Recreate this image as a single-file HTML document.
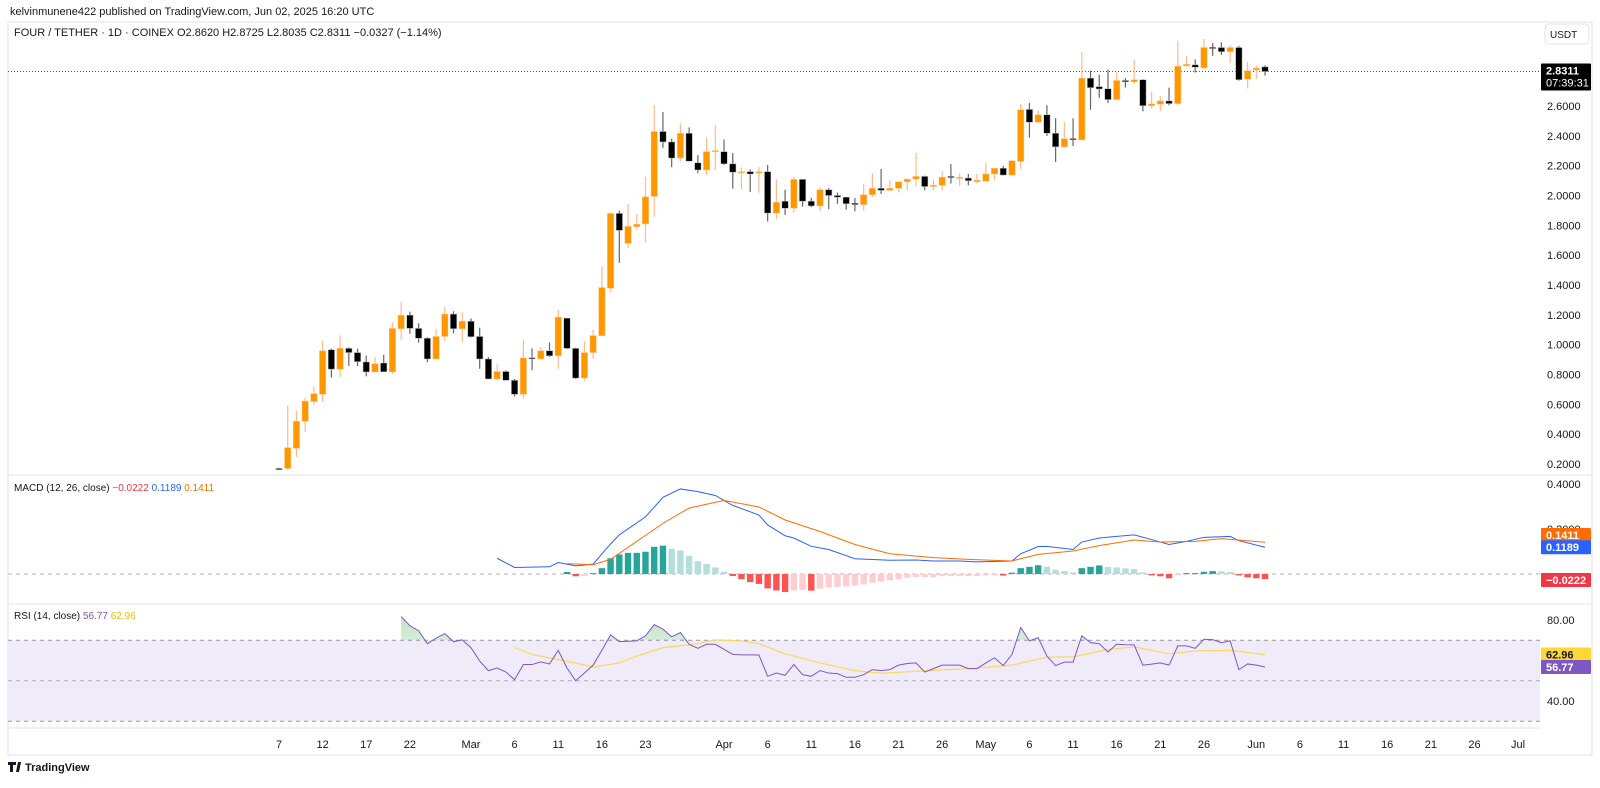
<!DOCTYPE html>
<html><head><meta charset="utf-8"><style>
html,body{margin:0;padding:0;background:#fff;}
body{width:1600px;height:783px;overflow:hidden;font-family:"Liberation Sans",sans-serif;}
svg text{font-family:"Liberation Sans",sans-serif;}
</style></head><body>
<svg id="chart" width="1600" height="783" viewBox="0 0 1600 783" xmlns="http://www.w3.org/2000/svg">
<rect x="0" y="0" width="1600" height="783" fill="#fff"/>
<text x="10" y="15" font-size="11" fill="#131722">kelvinmunene422 published on TradingView.com, Jun 02, 2025 16:20 UTC</text>
<rect x="8" y="22" width="1584" height="733" fill="none" stroke="#e0e3eb"/>
<text x="14" y="36" font-size="11" fill="#131722">FOUR / TETHER · 1D · COINEX  O2.8620  H2.8725  L2.8035  C2.8311  −0.0327 (−1.14%)</text>
<line x1="8" y1="475" x2="1592" y2="475" stroke="#e0e3eb"/>
<line x1="8" y1="604" x2="1592" y2="604" stroke="#e0e3eb"/>
<line x1="8" y1="728" x2="1540" y2="728" stroke="#e0e3eb"/>
<rect x="8" y="640.25" width="1532" height="81" fill="#efebf8"/>
<line x1="8" y1="640.25" x2="1540" y2="640.25" stroke="#9a97a3" stroke-dasharray="4,4"/>
<line x1="8" y1="680.75" x2="1540" y2="680.75" stroke="#b0adb8" stroke-dasharray="4,4"/>
<line x1="8" y1="721.25" x2="1540" y2="721.25" stroke="#9a97a3" stroke-dasharray="4,4"/>
<line x1="8" y1="574" x2="1540" y2="574" stroke="#b2b5be" stroke-dasharray="4,4"/>
<g id="gPrice"></g><g id="gMacd"></g><g id="gRsi"></g><g id="gAxis"></g>
<text x="14" y="491" font-size="10" fill="#131722">MACD (12, 26, close) <tspan fill="#f23645">−0.0222</tspan> <tspan fill="#2962ff">0.1189</tspan> <tspan fill="#ff6d00">0.1411</tspan></text>
<text x="14" y="619" font-size="10" fill="#131722">RSI (14, close) <tspan fill="#7e57c2">56.77</tspan> <tspan fill="#e8c200">62.96</tspan></text>
<rect x="1545" y="24" width="44" height="20" rx="4" fill="#fff" stroke="#e0e3eb"/>
<text x="1550" y="38" font-size="10" fill="#131722">USDT</text>
<g>
<path d="M8 762h8v3h-3v7h-3v-7h-2z M18 762h3l-2 10h-3z" fill="#131722"/>
<text x="25" y="771" font-size="11" fill="#131722" font-weight="bold">TradingView</text>
</g>
</svg>
<script>
const opens=[0.17,0.17,0.305,0.487,0.619,0.667,0.966,0.836,0.975,0.947,0.884,0.817,0.877,0.817,1.107,1.198,1.109,1.043,0.904,1.055,1.205,1.107,1.157,1.055,0.904,0.770,0.820,0.761,0.667,0.913,0.904,0.959,0.925,1.178,0.975,0.776,0.947,1.059,1.378,1.880,1.679,1.791,1.809,1.994,2.429,2.359,2.251,2.417,2.219,2.171,2.294,2.294,2.212,2.156,2.160,2.151,2.160,1.882,1.962,1.914,2.108,1.962,1.930,2.039,2.000,1.989,1.948,1.939,2.005,2.048,2.034,2.048,2.092,2.110,2.128,2.060,2.069,2.128,2.118,2.117,2.092,2.096,2.144,2.183,2.137,2.229,2.577,2.491,2.541,2.417,2.326,2.382,2.372,2.787,2.730,2.716,2.643,2.771,2.762,2.776,2.602,2.612,2.634,2.616,2.869,2.876,2.855,2.993,2.992,2.964,2.992,2.780,2.842,2.862];
const highs=[0.175,0.59,0.558,0.644,0.720,1.027,0.975,1.062,0.982,0.973,0.927,0.918,0.932,1.150,1.287,1.221,1.144,1.050,1.103,1.253,1.224,1.217,1.176,1.114,0.916,0.868,0.827,0.770,1.029,0.975,0.984,1.014,1.232,1.18,0.98,1.025,1.101,1.527,1.885,1.898,1.944,1.875,2.126,2.605,2.559,2.381,2.484,2.456,2.270,2.388,2.472,2.376,2.285,2.189,2.176,2.190,2.205,2.108,2.039,2.126,2.11,1.985,2.058,2.051,2.019,1.99,1.983,2.076,2.149,2.178,2.103,2.095,2.112,2.285,2.133,2.108,2.162,2.210,2.149,2.144,2.144,2.217,2.185,2.199,2.240,2.616,2.621,2.571,2.605,2.518,2.495,2.518,2.963,2.837,2.810,2.844,2.826,2.787,2.912,2.78,2.696,2.666,2.723,3.038,2.935,2.912,3.049,3.022,3.026,3.008,3.003,2.894,2.871,2.8725];
const lows=[0.16,0.16,0.248,0.414,0.599,0.617,0.781,0.781,0.858,0.856,0.788,0.815,0.817,0.804,1.034,1.073,1.014,0.882,0.904,1.021,1.075,1.016,1.048,0.838,0.770,0.763,0.759,0.653,0.640,0.829,0.904,0.918,0.838,0.97,0.77,0.759,0.906,1.059,1.351,1.549,1.648,1.773,1.686,1.857,2.320,2.190,2.229,2.229,2.149,2.137,2.171,2.205,2.046,2.042,2.024,2.019,1.825,1.841,1.870,1.887,1.925,1.921,1.894,1.909,1.944,1.905,1.894,1.898,1.989,2.010,2.030,2.021,2.035,2.062,2.035,2.035,2.035,2.080,2.065,2.069,2.080,2.096,2.099,2.135,2.135,2.178,2.388,2.49,2.400,2.224,2.32,2.331,2.37,2.575,2.655,2.620,2.64,2.723,2.748,2.564,2.584,2.566,2.605,2.609,2.865,2.824,2.85,2.935,2.942,2.889,2.77,2.718,2.780,2.8035];
const closes=[0.165,0.31,0.487,0.622,0.672,0.959,0.836,0.975,0.947,0.886,0.817,0.872,0.818,1.109,1.198,1.109,1.043,0.904,1.055,1.205,1.107,1.157,1.053,0.904,0.770,0.820,0.761,0.667,0.911,0.911,0.959,0.925,1.185,0.975,0.776,0.947,1.061,1.383,1.880,1.766,1.793,1.807,1.991,2.429,2.359,2.251,2.417,2.23,2.171,2.294,2.301,2.212,2.156,2.160,2.144,2.160,1.882,1.955,1.914,2.108,1.962,1.930,2.039,2.000,1.989,1.944,1.939,2.005,2.048,2.034,2.048,2.092,2.110,2.128,2.060,2.069,2.123,2.124,2.122,2.099,2.103,2.144,2.183,2.137,2.233,2.575,2.491,2.541,2.417,2.326,2.381,2.380,2.787,2.723,2.714,2.643,2.771,2.762,2.776,2.602,2.614,2.634,2.616,2.867,2.880,2.860,2.992,2.990,2.964,2.992,2.776,2.837,2.855,2.8311];
const priceTicks=[0.2,0.4,0.6,0.8,1.0,1.2,1.4,1.6,1.8,2.0,2.2,2.4,2.6];
const macdIdx=[25,27,31,32,34,36,38,39,42,44,46,48,50,52,55,56,58,59,61,63,66,70,73,75,78,80,84,85,87,88,91,92,94,96,98,100,102,104,106,109,110,113];
const macdVals=[0.070,0.029,0.032,0.051,0.036,0.044,0.134,0.174,0.254,0.341,0.378,0.366,0.349,0.305,0.262,0.218,0.170,0.160,0.123,0.109,0.068,0.061,0.062,0.058,0.058,0.054,0.058,0.090,0.122,0.123,0.109,0.142,0.160,0.167,0.174,0.153,0.131,0.145,0.163,0.167,0.148,0.1189];
const signalIdx=[33,36,38,41,44,47,51,55,58,62,66,70,75,79,84,87,91,94,98,101,105,108,113];
const signalVals=[0.046,0.041,0.065,0.145,0.225,0.293,0.327,0.298,0.240,0.189,0.131,0.090,0.073,0.065,0.058,0.087,0.102,0.126,0.151,0.142,0.145,0.157,0.1411];
const histStart=33;
const histVals=[0.009,-0.010,-0.009,0.004,0.026,0.070,0.087,0.094,0.094,0.099,0.121,0.126,0.112,0.105,0.081,0.057,0.044,0.029,0.010,-0.009,-0.023,-0.036,-0.044,-0.064,-0.073,-0.080,-0.073,-0.071,-0.074,-0.065,-0.060,-0.057,-0.055,-0.051,-0.046,-0.039,-0.033,-0.028,-0.023,-0.017,-0.013,-0.013,-0.013,-0.009,-0.009,-0.009,-0.009,-0.009,-0.006,-0.006,-0.007,0.006,0.026,0.032,0.039,0.033,0.019,0.013,0.007,0.026,0.032,0.038,0.031,0.029,0.025,0.022,0.007,-0.006,-0.010,-0.019,-0.003,0.004,0.004,0.010,0.013,0.012,0.009,-0.006,-0.015,-0.019,-0.0222];
const macdTicks=[0.4,0.2];
const rsiStart=14;
const rsiVals=[81.7,77.2,74.7,68.3,71,73.3,69.3,70.2,66.3,59.7,55,56.3,54.3,50.5,58,58,59.3,58.3,65,56.3,50,53.8,57.7,65,72.7,69.3,69.5,69.7,72.2,77.7,75.5,71.7,73.8,68,66,68,68,65.5,63,62.8,62.8,62.7,52.2,53.8,52.7,58,53,52.2,55,53.8,53.5,51.7,51.7,53,55.5,55,55.5,57.7,58.5,58.8,54.3,56,57.7,57.7,57.7,56,56,58.8,61.3,57.5,63,76.3,69.7,71.3,62.2,57.5,59.2,59.2,72.2,68.8,68.3,64.2,68,67.8,67.7,57.7,58.2,58.8,57.7,67.2,67.2,66,70.5,70.3,68.8,69.7,55.5,58.3,57.7,56.77];
const rsiMaIdx=[27,29,31,33,36,39,41,44,48,50,53,55,58,62,66,69,73,79,84,88,91,95,98,102,105,109,113];
const rsiMaVals=[66.3,63,61.3,59.7,56.8,58.8,62.2,66.3,68.3,70.2,69.7,68.3,63.3,58.8,55,53.7,54.7,56,57.7,61.7,61.8,65.5,66.7,63.3,64.7,65,62.96];
const rsiTicks=[80,40];
const dateLabels=["7","12","17","22","Mar","6","11","16","23","Apr","6","11","16","21","26","May","6","11","16","21","26","Jun","6","11","16","21","26","Jul"];
const dateIdx=[0,5,10,15,22,27,32,37,42,51,56,61,66,71,76,81,86,91,96,101,106,112,117,122,127,132,137,142];

const NS="http://www.w3.org/2000/svg";
const X=i=>279+i*8.726;
const YP=p=>464-(p-0.2)*149.17;
const YM=v=>574-v*225;
const YR=v=>680.75-(v-50)*2.025;
function mk(tag,attrs,parent){const e=document.createElementNS(NS,tag);for(const k in attrs)e.setAttribute(k,attrs[k]);parent.appendChild(e);return e;}
const gP=document.getElementById('gPrice'),gM=document.getElementById('gMacd'),gR=document.getElementById('gRsi'),gA=document.getElementById('gAxis');

const pl=mk('line',{x1:8,x2:1540,y1:YP(closes[closes.length-1]),y2:YP(closes[closes.length-1]),stroke:'#555','stroke-dasharray':'1,2'},gP);



for(let i=0;i<opens.length;i++){
  const up=closes[i]>=opens[i];
  const x=X(i);
  const w=mk('line',{x1:x,x2:x,y1:YP(highs[i]),y2:YP(lows[i]),stroke:up?'#ffb98a':'#666','stroke-width':1.2},gP);
  
  
  const top=YP(Math.max(opens[i],closes[i])),bot=YP(Math.min(opens[i],closes[i]));
  const b=mk('rect',{x:x-3.2,y:top,width:6.4,height:Math.max(1.2,bot-top),fill:up?'#ff9800':'#000',stroke:up?'#ffc78a':'#bbb','stroke-width':0.5},gP);
  
  
}
priceTicks.forEach(p=>{
  const t=mk('text',{x:1547,y:YP(p)+4,'font-size':11,fill:'#131722'},gA);t.textContent=p.toFixed(4);
  
  
});
histVals.forEach((v,k)=>{
  const prev=k>0?histVals[k-1]:0;
  let c;
  if(v>=0)c=(v>=prev)?'#26a69a':'#b2dfdb';else c=(v<prev)?'#ff5252':'#ffcdd2';
  const y0=YM(0),y1=YM(v);
  const r=mk('rect',{x:X(histStart+k)-3.2,y:Math.min(y0,y1),width:6.4,height:Math.max(1,Math.abs(y1-y0)),fill:c},gM);
  
  
});
const ml=mk('polyline',{points:macdIdx.map((i,k)=>X(i)+','+YM(macdVals[k])).join(' '),fill:'none',stroke:'#2962ff','stroke-width':1},gM);


const sl=mk('polyline',{points:signalIdx.map((i,k)=>X(i)+','+YM(signalVals[k])).join(' '),fill:'none',stroke:'#ff6d00','stroke-width':1},gM);


macdTicks.forEach(v=>{
  const t=mk('text',{x:1547,y:YM(v)+4,'font-size':11,fill:'#131722'},gA);t.textContent=v.toFixed(4);
  
  
});
const defs=mk('defs',{},gR);
const cp=mk('clipPath',{id:'ob'},defs);
mk('rect',{x:0,y:604,width:1540,height:YR(70)-604},cp);
const lg=mk('linearGradient',{id:'gg',x1:0,y1:0,x2:0,y2:1},defs);
mk('stop',{offset:'0','stop-color':'#4caf50','stop-opacity':0.35},lg);
mk('stop',{offset:'1','stop-color':'#4caf50','stop-opacity':0.02},lg);
const rPts=rsiVals.map((v,k)=>X(rsiStart+k)+','+YR(v));
const ob=mk('polygon',{points:X(rsiStart)+','+YR(70)+' '+rPts.join(' ')+' '+X(rsiStart+rsiVals.length-1)+','+YR(70),fill:'url(#gg)','clip-path':'url(#ob)'},gR);


const rma=mk('polyline',{points:rsiMaIdx.map((i,k)=>X(i)+','+YR(rsiMaVals[k])).join(' '),fill:'none',stroke:'#fdd85a','stroke-width':1.2},gR);


const rl=mk('polyline',{points:rPts.join(' '),fill:'none',stroke:'#7e57c2','stroke-width':1},gR);


rsiTicks.forEach(v=>{
  const t=mk('text',{x:1547,y:YR(v)+4,'font-size':11,fill:'#131722'},gA);t.textContent=v.toFixed(2);
  
  
});
dateLabels.forEach((s,k)=>{
  const t=mk('text',{x:X(dateIdx[k]),y:748,'font-size':11,fill:'#131722','text-anchor':'middle'},gA);t.textContent=s;
  
  
});
function badge(name,y,h,bg,fg,lines){
  const g=mk('g',{},gA);
  
  
  mk('rect',{x:1541,y:y,width:50,height:h,fill:bg,rx:1},g);
  lines.forEach((s,k)=>{const t=mk('text',{x:1546,y:y+11+k*12,'font-size':11,fill:fg,'font-weight':k==0?'bold':'normal'},g);t.textContent=s;});
}
badge('last-price-badge',YP(closes[closes.length-1])-8,27,'#000','#fff',['2.8311','07:39:31']);
badge('signal-value-badge',528,14,'#ff6d00','#fff',['0.1411']);
badge('macd-value-badge',YM(macdVals[macdVals.length-1])-7,14,'#2962ff','#fff',['0.1189']);
badge('histogram-value-badge',YM(0)-1,14,'#f23645','#fff',['−0.0222']);
badge('rsi-ma-value-badge',YR(rsiMaVals[rsiMaVals.length-1])-7,14,'#fdd835','#131722',['62.96']);
badge('rsi-value-badge',YR(rsiVals[rsiVals.length-1])-7,14,'#7e57c2','#fff',['56.77']);
</script>
</body></html>
